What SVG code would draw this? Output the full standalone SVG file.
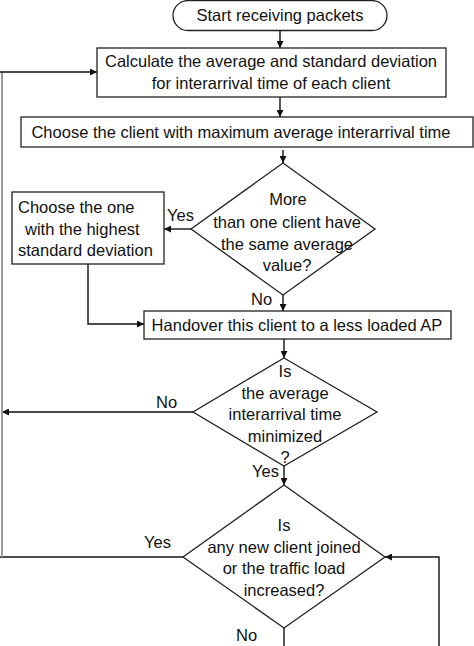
<svg xmlns="http://www.w3.org/2000/svg" width="474" height="646" viewBox="0 0 474 646">
<defs>
<style>
.n{fill:#fff;stroke:#222;stroke-width:1.3}
.t{font-family:"Liberation Sans",Arial,sans-serif;font-size:16.5px;fill:#111;text-anchor:middle}
.l{font-family:"Liberation Sans",Arial,sans-serif;font-size:16.5px;fill:#111}
.c{fill:none;stroke:#111;stroke-width:1.4}
.g{fill:none;stroke:#999;stroke-width:2}
</style>
<marker id="a" viewBox="0 0 10 10" refX="10" refY="5" markerWidth="7" markerHeight="7" markerUnits="userSpaceOnUse" orient="auto">
<path d="M0,0 L10,5 L0,10 z" fill="#111"/>
</marker>
</defs>
<rect width="474" height="646" fill="#fff"/>
<g id="connectors">
<line class="c" x1="280" y1="31" x2="280" y2="48" marker-end="url(#a)"/>
<line class="c" x1="280" y1="97" x2="280" y2="117" marker-end="url(#a)"/>
<line class="c" x1="283" y1="150" x2="283" y2="163" marker-end="url(#a)"/>
<line class="c" x1="191" y1="229" x2="164" y2="229" marker-end="url(#a)"/>
<polyline class="c" points="88,264 88,324 144,324" marker-end="url(#a)"/>
<line class="c" x1="283" y1="295" x2="283" y2="311" marker-end="url(#a)"/>
<line class="c" x1="284" y1="339" x2="284" y2="358" marker-end="url(#a)"/>
<line class="c" x1="193" y1="412" x2="2" y2="412" marker-end="url(#a)"/>
<line class="c" x1="284" y1="466" x2="284" y2="485" marker-end="url(#a)"/>
<line class="c" x1="183" y1="557" x2="0" y2="557"/>
<line class="g" x1="2" y1="557" x2="2" y2="72"/>
<line class="c" x1="0" y1="72" x2="97" y2="72" marker-end="url(#a)"/>
<line class="c" x1="284" y1="628" x2="284" y2="646"/>
<polyline class="c" points="439,646 439,557 385,557" marker-end="url(#a)"/>
<text class="l" x="167" y="221">Yes</text>
<text class="l" x="251" y="305">No</text>
<text class="l" x="156" y="408">No</text>
<text class="l" x="252" y="477">Yes</text>
<text class="l" x="144" y="548">Yes</text>
<text class="l" x="236" y="641">No</text>
</g>
<g id="start">
<rect class="n" x="173" y="0.5" width="214" height="30" rx="15"/>
<text class="t" x="280" y="21">Start receiving packets</text>
</g>
<g id="calc">
<rect class="n" x="97" y="48" width="349" height="49"/>
<text class="t" x="271" y="67">Calculate the average and standard deviation</text>
<text class="t" x="271" y="89">for interarrival time of each client</text>
</g>
<g id="choose-max">
<rect class="n" x="21" y="117" width="452" height="30"/>
<text class="t" x="241" y="138">Choose the client with maximum average interarrival time</text>
</g>
<g id="dec1">
<polygon class="n" points="283,163 375,229 283,295 191,229"/>
<text class="t" x="288" y="205">More</text>
<text class="t" x="287" y="228">than one client have</text>
<text class="t" x="287" y="250">the same average</text>
<text class="t" x="287" y="271">value?</text>
</g>
<g id="choose-std">
<rect class="n" x="12" y="192" width="152" height="72"/>
<text class="l" x="18" y="213">Choose the one</text>
<text class="l" x="25" y="235">with the highest</text>
<text class="l" x="18" y="256">standard deviation</text>
</g>
<g id="handover">
<rect class="n" x="144" y="311" width="307" height="28"/>
<text class="t" x="297" y="331">Handover this client to a less loaded AP</text>
</g>
<g id="dec2">
<polygon class="n" points="284,358 377,412 284,466 193,412"/>
<text class="t" x="285" y="377">Is</text>
<text class="t" x="285" y="399">the average</text>
<text class="t" x="285" y="420">interarrival time</text>
<text class="t" x="285" y="442">minimized</text>
<text class="t" x="285" y="463">?</text>
</g>
<g id="dec3">
<polygon class="n" points="284,485 385,557 284,628 183,557"/>
<text class="t" x="284" y="531">Is</text>
<text class="t" x="284" y="553">any new client joined</text>
<text class="t" x="284" y="574">or the traffic load</text>
<text class="t" x="284" y="596">increased?</text>
</g>
</svg>
